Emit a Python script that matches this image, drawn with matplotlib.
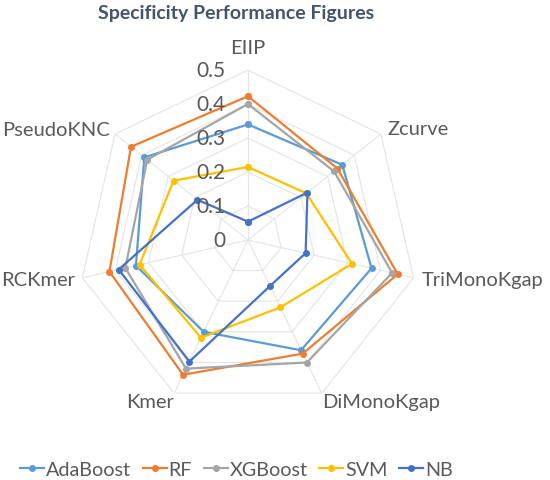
import numpy as np
import matplotlib
matplotlib.use("Agg")
import matplotlib.pyplot as plt

# 数据
categories = ["EIIP", "Zcurve", "TriMonoKgap", "DiMonoKgap", "Kmer", "RCKmer", "PseudoKNC"]
adaboost = [0.34, 0.355, 0.373, 0.36, 0.30, 0.338, 0.39]
rf = [0.423, 0.337, 0.452, 0.371, 0.44, 0.418, 0.44]
xgboost = [0.40, 0.324, 0.435, 0.40, 0.42, 0.37, 0.379]
svm = [0.215, 0.22, 0.314, 0.22, 0.319, 0.327, 0.28]
nb = [0.054, 0.224, 0.174, 0.15, 0.397, 0.39, 0.19]
tick_values = [0, 0.1, 0.2, 0.3, 0.4, 0.5]
tick_labels = ["0", "0.1", "0.2", "0.3", "0.4", "0.5"]

series = [
    ("AdaBoost", adaboost, "#5B9BD5"),
    ("RF", rf, "#ED7D31"),
    ("XGBoost", xgboost, "#A5A5A5"),
    ("SVM", svm, "#FFC000"),
    ("NB", nb, "#4472C4"),
]

plt.rcParams['font.family'] = ['Lato', 'DejaVu Sans']
text_color = "#595959"
grid_color = "#E4E4E4"

fig = plt.figure(figsize=(5.5, 4.81), dpi=100)
ax = fig.add_axes([0.1418, 0.1455, 0.618, 0.7069], projection='polar')
ax.set_theta_zero_location('N')
ax.set_theta_direction(-1)
ax.set_ylim(0, 0.5)
ax.grid(False)
ax.spines['polar'].set_visible(False)
ax.set_xticks([])
ax.set_yticks([])
ax.patch.set_alpha(0)

n = len(categories)
angles = np.linspace(0, 2 * np.pi, n, endpoint=False)
closed = np.append(angles, angles[0])

# 七边形网格
for r in tick_values[1:]:
    ax.plot(closed, [r] * (n + 1), color=grid_color, lw=0.8, zorder=1)
for a in angles:
    ax.plot([a, a], [0, tick_values[-1]], color=grid_color, lw=0.8, zorder=1)

# 刻度标签
for v, lab in zip(tick_values, tick_labels):
    ax.annotate(lab, (0, v), xytext=(-16, 0), textcoords='offset points',
                ha='right', va='center', fontsize=15, color=text_color, zorder=5)

# 类别标签
for a, name in zip(angles, categories):
    deg = np.degrees(a)
    if deg < 1:
        ha, va, r = 'center', 'bottom', 0.54
    elif deg < 120:
        ha, va, r = 'left', 'center', 0.525
    elif deg < 180:
        ha, va, r = 'left', 'top', 0.50
    elif deg < 240:
        ha, va, r = 'right', 'top', 0.50
    else:
        ha, va, r = 'right', 'center', 0.52
    ax.text(a, r, name, ha=ha, va=va, fontsize=14.5, color=text_color)

# 数据线
for name, vals, col in series:
    ax.plot(closed, vals + vals[:1], color=col, lw=1.6, marker='o',
            markersize=4, label=name, zorder=3)

fig.text(0.43, 0.972, "Specificity Performance Figures", ha='center', va='center',
         fontsize=14, fontweight='bold', color="#44546A")

leg = fig.legend(loc='center', bbox_to_anchor=(0.43, 0.022), ncol=5, frameon=False,
                 fontsize=14.2, handlelength=1.2, handletextpad=0.1,
                 columnspacing=0.6, labelcolor=text_color,
                 borderpad=0, borderaxespad=0)

fig.savefig("out.png", dpi=100)
